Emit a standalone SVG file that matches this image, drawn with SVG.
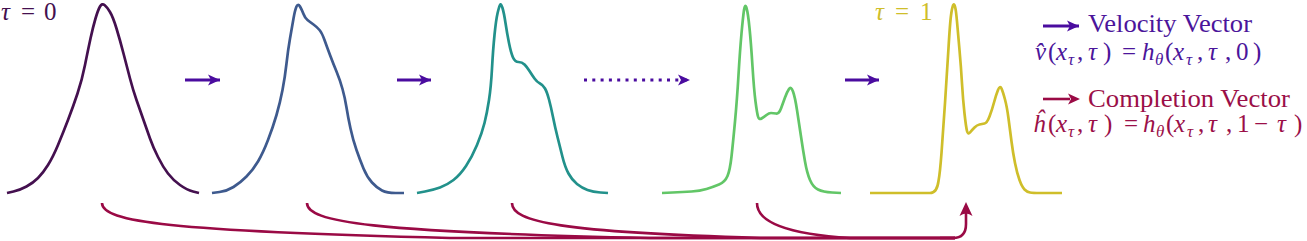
<svg xmlns="http://www.w3.org/2000/svg" width="1307" height="241" viewBox="0 0 1307 241">
<defs>
<style>
.curve{fill:none;stroke-width:2.7;stroke-linejoin:round;stroke-linecap:butt}
.t{font-size:25px;font-family:"Liberation Serif","Times New Roman",serif}
.i{font-style:italic}
.s{font-size:17px;font-style:italic}
.vel{stroke:#4a0c9f;stroke-width:3;fill:none}
.velhead{fill:#4a0c9f}
.comp{stroke:#9a0a45;stroke-width:2.6;fill:none}
.comphead{fill:#9a0a45}
.vcol{fill:#4b159b}
.ccol{fill:#9b0f48}
</style>
<marker id="vh" markerUnits="userSpaceOnUse" markerWidth="14" markerHeight="14" refX="12" refY="6" orient="auto" viewBox="0 0 14 12">
<path class="velhead" d="M0,0.5 L12,6 L0,11.5 L3,6 z"/>
</marker>
</defs>
<rect width="1307" height="241" fill="#ffffff"/>

<g id="dist-0">
<path class="curve" stroke="#44104f" d="M7,193 L13.5,191.5 Q20,190 26.5,186.5 Q33,183 38,178 Q43,173 48,165 Q53,157 58,145 Q63,133 68,120 Q73,107 77.5,93.5 Q82,80 85,65 Q88,50 90.5,38.5 Q93,27 95.5,18.5 Q98,10 100,6.5 Q102,3 104.5,5 Q107,7 110,12 Q113,17 116.5,28.5 Q120,40 123.5,53.5 Q127,67 130,78.5 Q133,90 136.5,100 Q140,110 143.5,120 Q147,130 150,138.5 Q153,147 158,157 Q163,167 168,173.5 Q173,180 180,185 Q187,190 193,191.5 L199,193"/>
<text class="t" y="20" fill="#44104f" font-size="22"><tspan x="1" class="i">τ</tspan><tspan x="21">=</tspan><tspan x="44">0</tspan></text>
</g>

<g id="dist-1">
<path class="curve" stroke="#3e5a8e" d="M212,193 L219.5,192 Q227,191 233.5,187 Q240,183 246.5,176.5 Q253,170 258,161.5 Q263,153 268,140 Q273,127 276.5,115 Q280,103 282.5,90 Q285,77 286.5,63.5 Q288,50 290,38.5 Q292,27 293.5,18.5 Q295,10 296.5,6.5 Q298,3 300,6.5 Q302,10 303.5,14 Q305,18 307.5,20 Q310,22 313.5,24.5 Q317,27 319.5,30 Q322,33 324.5,40 Q327,47 330,55 Q333,63 336.5,71.5 Q340,80 342.5,89 Q345,98 346.5,107.5 Q348,117 350.5,128.5 Q353,140 356.5,150 Q360,160 363.5,168.5 Q367,177 372,182.5 Q377,188 382,190.5 Q387,193 395.5,193 L404,193"/>
</g>

<g id="dist-2">
<path class="curve" stroke="#22918b" d="M417,193 L425,191.5 Q433,190 440,187.5 Q447,185 453.5,180 Q460,175 466,166 Q472,157 477,145 Q482,133 484.5,123 Q487,113 489,100 Q491,87 492,68.5 Q493,50 494.5,35 Q496,20 497.5,13.5 Q499,7 500,5 Q501,3 502.5,8 Q504,13 505.5,23 Q507,33 509,43 Q511,53 513,57.5 Q515,62 518.5,62 Q522,62 524.5,64.5 Q527,67 529.5,71 Q532,75 534.5,78.5 Q537,82 540,83.5 Q543,85 545,88.5 Q547,92 549,99.5 Q551,107 553,117 Q555,127 557.5,137 Q560,147 562.5,157 Q565,167 568.5,173.5 Q572,180 577,184 Q582,188 587.5,190 Q593,192 600.5,192.5 L608,193"/>
</g>

<g id="dist-3">
<path class="curve" stroke="#62c667" d="M662,193 L672.5,192.5 Q683,192 691.5,191.5 Q700,191 706.5,189 Q713,187 719,184.5 Q725,182 727.5,176 Q730,170 731.5,156.5 Q733,143 735,121.5 Q737,100 738.5,75 Q740,50 741.5,33.5 Q743,17 744,10 Q745,3 746.5,8 Q748,13 749.5,28 Q751,43 752.5,66.5 Q754,90 755.5,101.5 Q757,113 758,116.5 Q759,120 761.5,118.5 Q764,117 766.5,115 Q769,113 771,113 Q773,113 776,113.5 Q779,114 781,108.5 Q783,103 785,97.5 Q787,92 789,89 Q791,86 793,91.5 Q795,97 797,110 Q799,123 801,136.5 Q803,150 805,161.5 Q807,173 810,180 Q813,187 818,189.5 Q823,192 832,192.5 L841,193"/>
</g>

<g id="dist-4">
<path class="curve" stroke="#cfbe2a" d="M870,193 L930,193 Q937,193 938.5,181 Q940,173 941.5,153 Q943,133 945,103 Q947,73 948.5,48 Q950,23 951,15.5 Q952,8 953,5.5 Q954,3 955,6.5 Q956,10 957,21.5 Q958,33 959.5,50 Q961,67 962,83.5 Q963,100 964.5,113.5 Q966,127 967,131 Q968,135 970,132.5 Q972,130 974.5,127.5 Q977,125 979.5,124.5 Q982,124 984.5,123.5 Q987,123 989.5,116.5 Q992,110 994,102.5 Q996,95 998,90 Q1000,85 1001.5,88.5 Q1003,92 1005,99.5 Q1007,107 1008.5,118.5 Q1010,130 1011.5,141.5 Q1013,153 1015,163 Q1017,173 1019.5,180 Q1022,187 1024.5,189.5 Q1027,192 1030,192.5 Q1033,193 1040,193 L1062,193"/>
<text class="t" y="20" fill="#cfbe2a" font-size="22"><tspan x="875" class="i">τ</tspan><tspan x="895">=</tspan><tspan x="920">1</tspan></text>
</g>

<g id="legend-velocity">
<line class="vel" x1="1043" y1="26" x2="1079" y2="26" stroke-width="2.2" marker-end="url(#vh)"/>
<text class="t vcol" x="1088" y="32" textLength="164" lengthAdjust="spacingAndGlyphs">Velocity Vector</text>
<text class="t vcol" y="60"><tspan x="1035" class="i">v̂</tspan><tspan x="1048">(</tspan><tspan x="1056" class="i">x</tspan><tspan x="1068" dy="5" class="s">τ</tspan><tspan x="1077" dy="-5">,</tspan><tspan x="1088" class="i">τ</tspan><tspan x="1103">)</tspan><tspan x="1122">=</tspan><tspan x="1142" class="i">h</tspan><tspan x="1155" dy="5" class="s">θ</tspan><tspan x="1165" dy="-5">(</tspan><tspan x="1173" class="i">x</tspan><tspan x="1186" dy="5" class="s">τ</tspan><tspan x="1197" dy="-5">,</tspan><tspan x="1208" class="i">τ</tspan><tspan x="1225">,</tspan><tspan x="1236">0</tspan><tspan x="1253">)</tspan></text>
</g>

<g id="legend-completion">
<line class="comp" x1="1043" y1="99" x2="1070" y2="99" stroke-width="2.2"/>
<path class="comphead" d="M1080,99 L1068,93.5 L1071,99 L1068,104.5 z"/>
<text class="t ccol" x="1088" y="107" textLength="202" lengthAdjust="spacingAndGlyphs">Completion Vector</text>
<text class="t ccol" y="132"><tspan x="1033" class="i">ĥ</tspan><tspan x="1048">(</tspan><tspan x="1056" class="i">x</tspan><tspan x="1068" dy="5" class="s">τ</tspan><tspan x="1077" dy="-5">,</tspan><tspan x="1088" class="i">τ</tspan><tspan x="1104">)</tspan><tspan x="1124">=</tspan><tspan x="1143" class="i">h</tspan><tspan x="1156" dy="5" class="s">θ</tspan><tspan x="1166" dy="-5">(</tspan><tspan x="1174" class="i">x</tspan><tspan x="1187" dy="5" class="s">τ</tspan><tspan x="1198" dy="-5">,</tspan><tspan x="1208" class="i">τ</tspan><tspan x="1226">,</tspan><tspan x="1237">1</tspan><tspan x="1254">−</tspan><tspan x="1277" class="i">τ</tspan><tspan x="1294">)</tspan></text>
</g>

<g id="connectors">
<line class="vel" x1="185" y1="80" x2="220" y2="80" marker-end="url(#vh)"/>
<line class="vel" x1="397" y1="80" x2="431" y2="80" marker-end="url(#vh)"/>
<line class="vel" x1="584" y1="80" x2="690" y2="80" stroke-dasharray="3 5.3" marker-end="url(#vh)"/>
<line class="vel" x1="845" y1="80" x2="879" y2="80" marker-end="url(#vh)"/>

<path class="comp" d="M102,203 C102,222 170,231 450,238 L955,238"/>
<path class="comp" d="M307,203 C307,222 370,232 650,238 L955,238"/>
<path class="comp" d="M512,203 C512,222 560,232 760,238 L955,238"/>
<path class="comp" d="M757,203 C757,222 785,234 850,238 L955,238"/>
<path class="comp" d="M940,238 L953,238 Q966,238 966,224 L966,212"/>
<path class="comphead" d="M966,202 L972.5,216 Q966,211 959.5,216 z"/>
</g>
</svg>
